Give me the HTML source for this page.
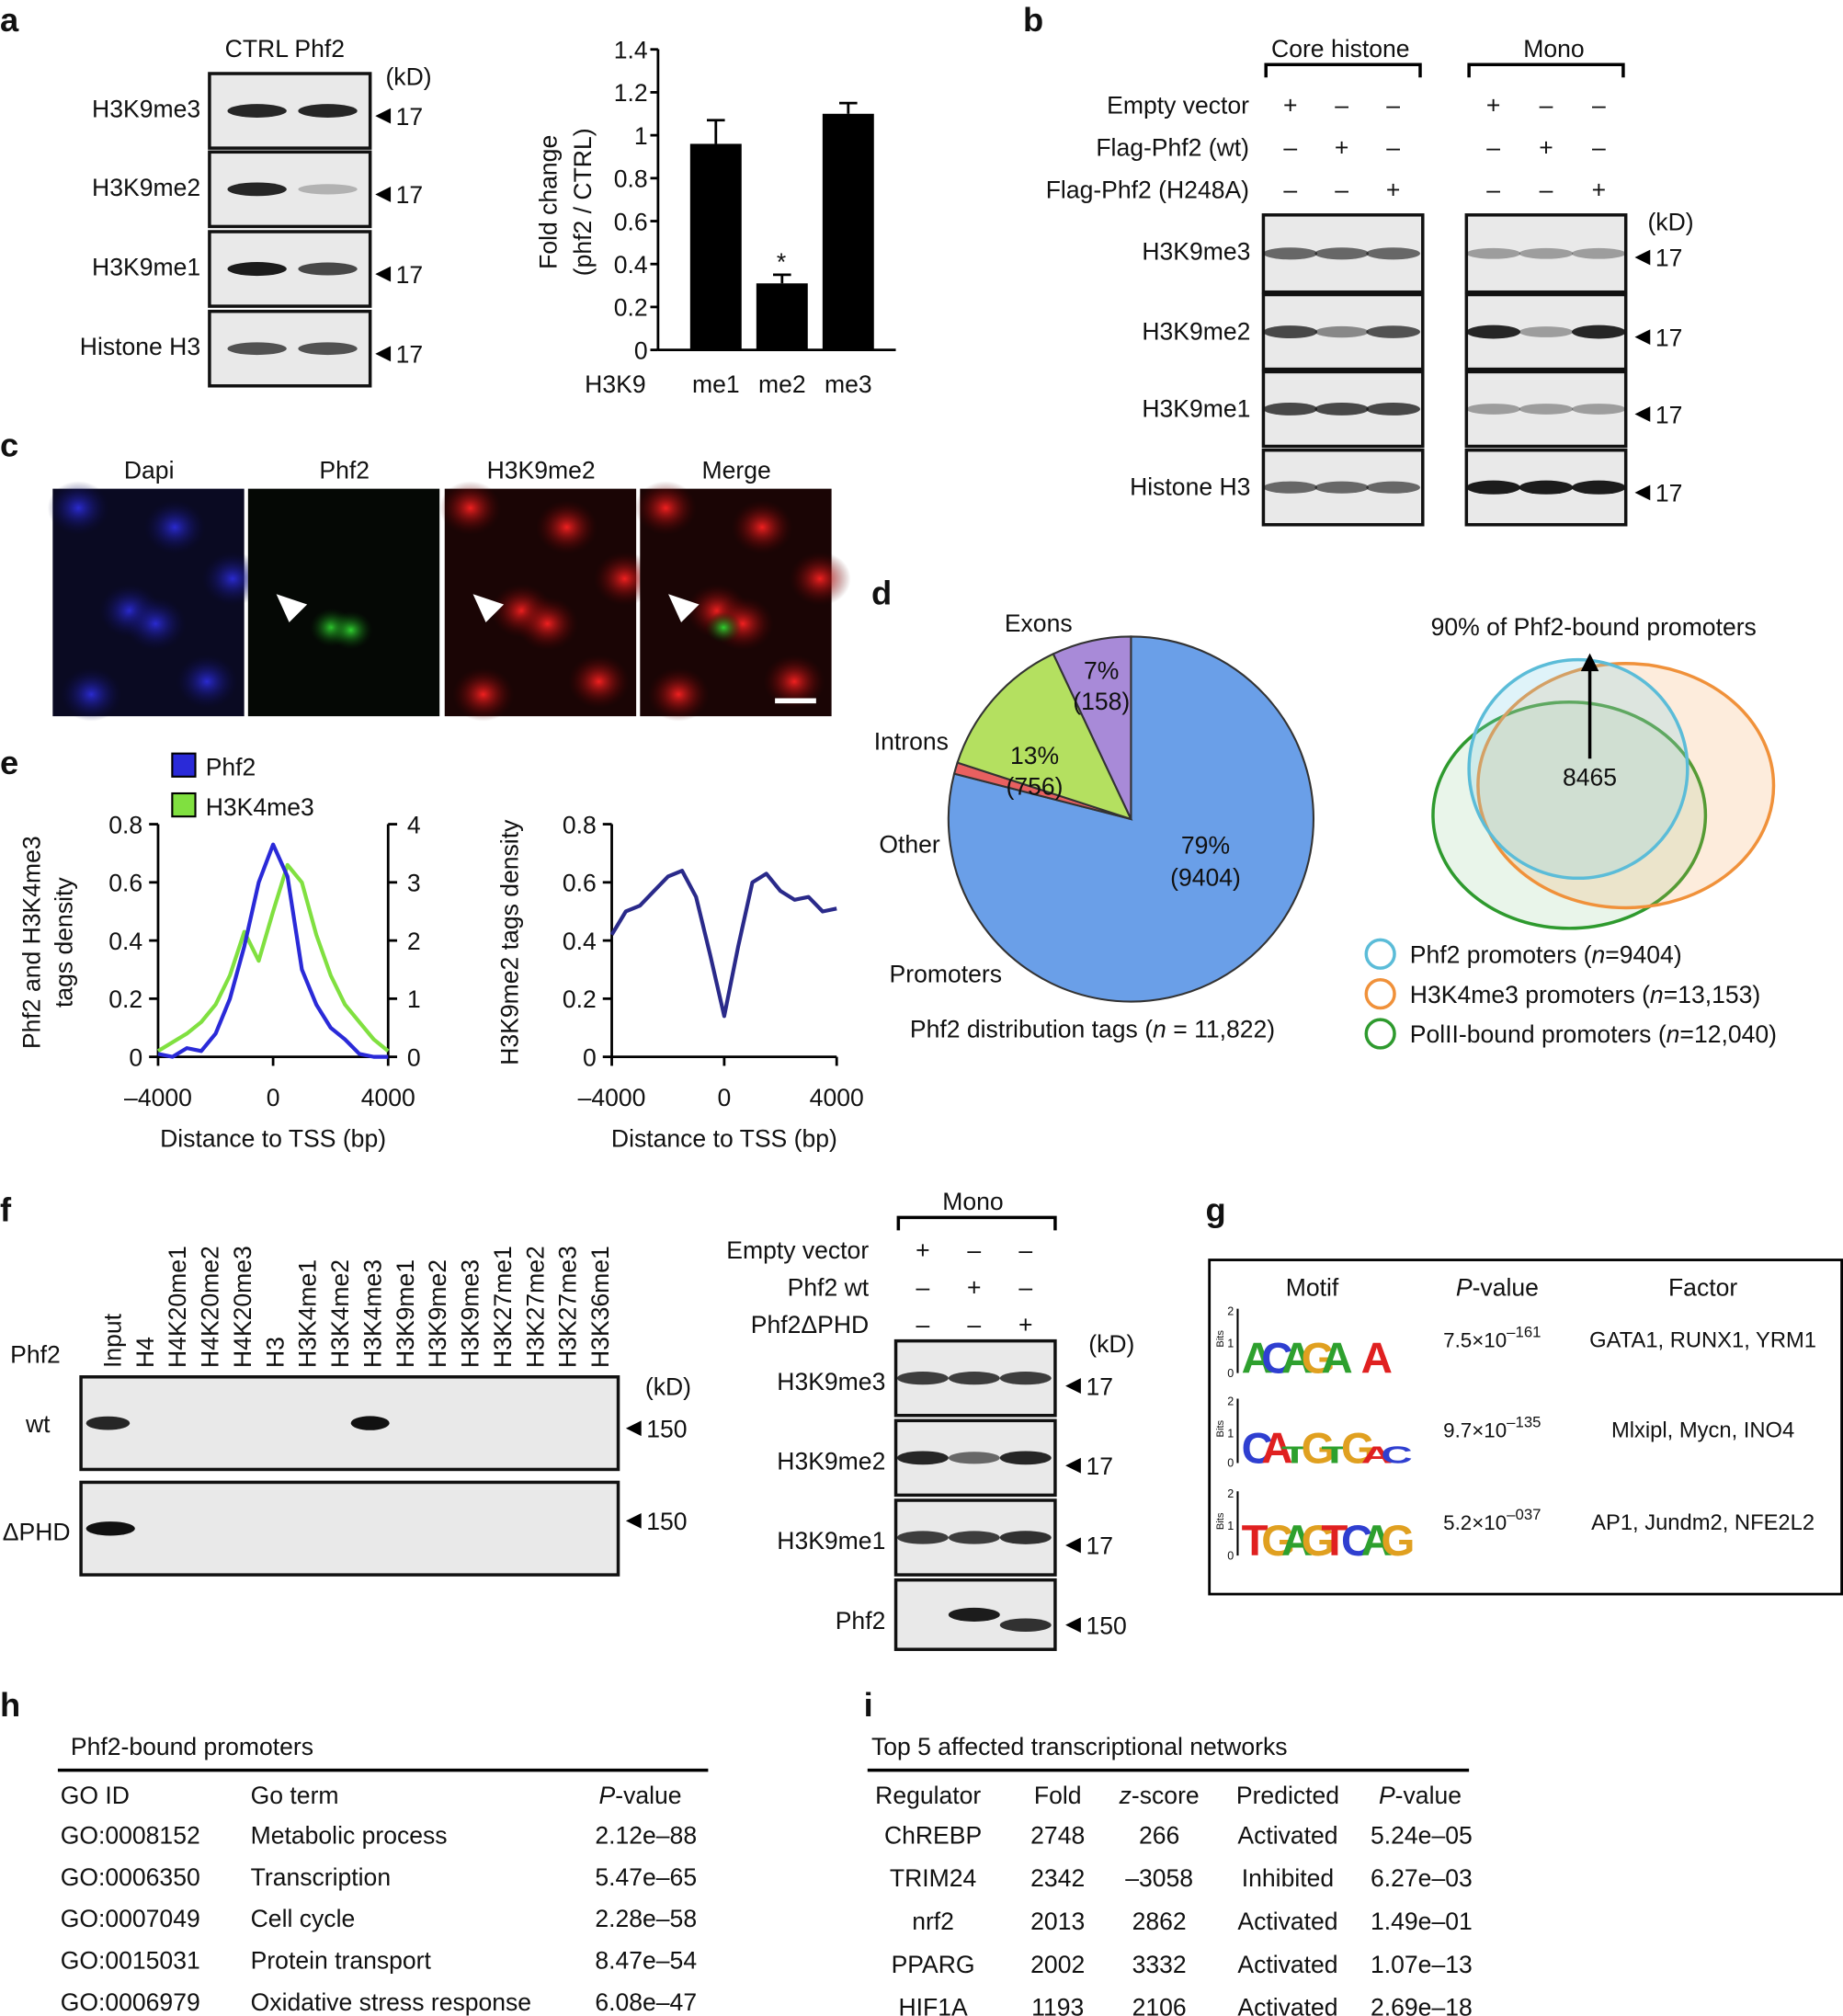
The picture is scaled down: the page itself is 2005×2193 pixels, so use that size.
<!DOCTYPE html>
<html><head><meta charset="utf-8">
<style>
html,body{margin:0;padding:0;background:#fff;}
svg{display:block;font-family:"Liberation Sans",Arial,sans-serif;}
</style></head>
<body>
<svg id="fig" width="2005" height="2193" viewBox="0 0 1434 1568" xmlns="http://www.w3.org/2000/svg">
<defs>
<radialGradient id="nucB" cx="50%" cy="50%" r="50%"><stop offset="0" stop-color="#2a2ad0"/><stop offset="1" stop-color="#0a0a40" stop-opacity="0"/></radialGradient>
<radialGradient id="nucG" cx="50%" cy="50%" r="50%"><stop offset="0" stop-color="#30d030"/><stop offset="1" stop-color="#053005" stop-opacity="0"/></radialGradient>
<radialGradient id="nucR" cx="50%" cy="50%" r="50%"><stop offset="0" stop-color="#f02020"/><stop offset="1" stop-color="#400" stop-opacity="0"/></radialGradient>
</defs>
<g id="root" font-size="19" fill="#111"></g>
</svg>
<script>
// ---- chart data ----
const barCategories = ['me1','me2','me3'];
const barValues = [0.96, 0.31, 1.1];
const barErrors = [0.11, 0.04, 0.05];
const barTicks = [0,0.2,0.4,0.6,0.8,1,1.2,1.4];
const tssPositions = [-4000,-3500,-3000,-2500,-2000,-1500,-1000,-500,0,500,1000,1500,2000,2500,3000,3500,4000];
const phf2Density = [0.01,0.0,0.03,0.02,0.08,0.2,0.38,0.6,0.73,0.62,0.3,0.18,0.1,0.06,0.01,0,0];
const h3k4me3Density = [0.1,0.25,0.4,0.6,0.9,1.4,2.15,1.65,2.5,3.3,3.0,2.1,1.4,0.9,0.6,0.3,0.1];
const h3k9me2Density = [0.42,0.5,0.52,0.57,0.62,0.64,0.55,0.35,0.14,0.38,0.6,0.63,0.57,0.54,0.55,0.5,0.51];
const leftTicks = [0,0.2,0.4,0.6,0.8];
const rightTicks = [0,1,2,3,4];
const xTicks = [-4000,0,4000];
const pieLabels = ['Promoters','Other','Introns','Exons'];
const pieValues = [79, 1, 13, 7];
const pieColors = ['#6a9fe8','#e86060','#b4e060','#a88ad8'];

const NS='http://www.w3.org/2000/svg';
const root=document.getElementById('root');
function el(tag,attrs,parent,text){const e=document.createElementNS(NS,tag);for(const k in attrs)e.setAttribute(k,attrs[k]);if(text!==undefined)e.textContent=text;(parent||root).appendChild(e);return e;}
function T(x,y,s,o){o=o||{};const a={x:x,y:y};if(o.a)a['text-anchor']=o.a;if(o.fs)a['font-size']=o.fs;if(o.w)a['font-weight']=o.w;if(o.st)a['font-style']=o.st;if(o.tr)a.transform=o.tr;if(o.fill)a.fill=o.fill;const t=el('text',a,o.p,s);return t;}
function L(x1,y1,x2,y2,w,c,p){const l=el('line',{x1:x1,y1:y1,x2:x2,y2:y2,stroke:c||'#000','stroke-width':w||2},p);return l;}
function blot(x,y,w,h,bands,name){const g=el('g',{});
 el('rect',{x:x,y:y,width:w,height:h,fill:'#e9e9e9',stroke:'#111','stroke-width':2.5},g);
 bands.forEach(b=>{if(b[2]<=0)return;el('ellipse',{cx:b[0],cy:y+h*(b[3]||0.5),rx:b[1]+3,ry:3.5+2*b[2],fill:'#111',opacity:b[2]},g);});return g;}
function arrow(x,y,label){el('path',{d:`M${x} ${y} l12 -6 v12 z`,fill:'#000'});T(x+16,y+7,label,{n:'kd-marker'});}

[['a',0,24],['b',796,24],['c',0,355],['d',678,470],['e',0,602],['f',0,950],['g',938,950],['h',0,1335],['i',672,1335]].forEach(p=>T(p[1],p[2],p[0],{fs:26,w:'bold',n:'panel-letter-'+p[0]}));

// ---- panel a blots ----
T(175,44,'CTRL Phf2',{n:'blot-a-header'});T(300,66,'(kD)');
const aRows=[['H3K9me3',57,[0.9,0.9]],['H3K9me2',118,[0.9,0.25]],['H3K9me1',180,[0.95,0.75]],['Histone H3',242,[0.7,0.7]]];
aRows.forEach((r,i)=>{blot(163,r[1],125,58,[[200,20,r[2][0]],[255,20,r[2][1]]],'blot-a-'+r[0]);T(156,r[1]+34,r[0],{a:'end',n:'row-label'});arrow(292,r[1]+33,'17');});

// ---- panel a bar chart ----
(function(){const x0=512,y0=272,k=167;const y=v=>y0-v*k;
 L(x0,38,x0,y0);L(x0,y0,697,y0);
 barTicks.forEach(t=>{L(x0-6,y(t),x0,y(t));T(x0-8,y(t)+7,String(t),{a:'end',n:'y-tick'});});
 T(0,0,'Fold change',{a:'middle',tr:'translate(433,157) rotate(-90)',n:'y-axis-title'});
 T(0,0,'(phf2 / CTRL)',{a:'middle',tr:'translate(460,157) rotate(-90)',n:'y-axis-title'});
 T(455,305,'H3K9',{n:'x-axis-title'});
 barCategories.forEach((c,i)=>{const cx=557+i*51.5,w=40,v=barValues[i],e=barErrors[i];
  const r=el('rect',{x:cx-w/2,y:y(v),width:w,height:y0-y(v),fill:'#000'});
  L(cx,y(v),cx,y(v+e));L(cx-7,y(v+e),cx+7,y(v+e));
  T(cx,305,c,{a:'middle',n:'x-tick'});});
 T(608,210,'*',{a:'middle',n:'significance-star'});
})();

// ---- panel b ----
T(1043,44,'Core histone',{a:'middle'});T(1209,44,'Mono',{a:'middle'});
el('path',{d:'M985 60 V50 H1105 V60 M1143 60 V50 H1263 V60',fill:'none',stroke:'#000','stroke-width':2.5});
const bCond=[['Empty vector',81,['+','–','–']],['Flag-Phf2 (wt)',114,['–','+','–']],['Flag-Phf2 (H248A)',147,['–','–','+']]];
bCond.forEach(r=>{T(972,r[1]+7,r[0],{a:'end',n:'condition-label'});r[2].forEach((s,j)=>{T(1004+j*40,r[1]+7,s,{a:'middle'});T(1162+j*41,r[1]+7,s,{a:'middle'});});});
T(1282,179,'(kD)');
const bRows=[['H3K9me3',167,[.6,.6,.6],[.35,.35,.35]],['H3K9me2',229,[.75,.45,.7],[.9,.35,.9]],['H3K9me1',289,[.75,.75,.75],[.35,.35,.35]],['Histone H3',350,[.6,.6,.6],[.95,.95,.95]]];
bRows.forEach(r=>{const h=r[0]=='H3K9me3'?60:58;
 blot(983,r[1],124,h,r[2].map((v,j)=>[1004+j*40,18,v]),'blot-b-core-'+r[0]);
 blot(1141,r[1],124,h,r[3].map((v,j)=>[1162+j*41,18,v]),'blot-b-mono-'+r[0]);
 T(973,r[1]+35,r[0],{a:'end',n:'row-label'});arrow(1272,r[1]+33,'17');});

// ---- panel c ----
const cPan=[['Dapi',41,'nucB'],['Phf2',193,'nucG'],['H3K9me2',346,'nucR'],['Merge',498,'nucR']];
const nuclei=[[20,15],[95,30],[60,95],[80,105],[120,150],[30,160],[140,70]];
cPan.forEach((p,i)=>{const g=el('g',{});
 el('rect',{x:p[1],y:380,width:149,height:177,fill:i==0?'#0a0a22':(i==1?'#050805':'#1a0505')},g);
 if(i==1){el('ellipse',{cx:p[1]+65,cy:488,rx:17,ry:15,fill:'url(#nucG)'},g);el('ellipse',{cx:p[1]+80,cy:490,rx:17,ry:15,fill:'url(#nucG)'},g);}
 else{nuclei.forEach(n=>el('ellipse',{cx:p[1]+n[0],cy:380+n[1],rx:24,ry:21,fill:'url(#'+p[2]+')'},g));}
 if(i==3){el('ellipse',{cx:p[1]+65,cy:488,rx:14,ry:12,fill:'url(#nucG)'},g);el('rect',{x:p[1]+105,y:543,width:32,height:4,fill:'#fff'},g);}
 if(i>0)el('path',{d:`M${p[1]+22} 462 l24 8 l-14 14 z`,fill:'#fff'},g);
 T(p[1]+75,372,p[0],{a:'middle',n:'micrograph-title'});});

// ---- panel d pie ----
(function(){const cx=880,cy=637,r=142;const tot=pieValues.reduce((a,b)=>a+b,0);let a=-Math.PI/2;
 pieValues.forEach((v,i)=>{const da=v/tot*2*Math.PI,a2=a+da;const big=da>Math.PI?1:0;
  const p=el('path',{d:`M${cx} ${cy} L${cx+r*Math.cos(a)} ${cy+r*Math.sin(a)} A${r} ${r} 0 ${big} 1 ${cx+r*Math.cos(a2)} ${cy+r*Math.sin(a2)} Z`,fill:pieColors[i],stroke:'#333','stroke-width':1.5});
  a=a2;});
 T(938,664,'79%',{a:'middle'});T(938,689,'(9404)',{a:'middle'});
 T(805,594,'13%',{a:'middle'});T(805,618,'(756)',{a:'middle'});
 T(857,528,'7%',{a:'middle'});T(857,552,'(158)',{a:'middle'});
 T(808,491,'Exons',{a:'middle'});T(680,583,'Introns');T(684,663,'Other');T(692,764,'Promoters');
 const t=T(708,807,'Phf2 distribution tags (',{n:'pie-caption'});
 el('tspan',{'font-style':'italic'},t,'n');el('tspan',{},t,' = 11,822)');
})();
// venn
(function(){const g=el('g',{});
 el('ellipse',{cx:1221,cy:634,rx:106,ry:88,fill:'#4caf50','fill-opacity':0.12,stroke:'#2e9a2e','stroke-width':2.5},g);
 el('ellipse',{cx:1265,cy:611,rx:115,ry:95,fill:'#f5a050','fill-opacity':0.2,stroke:'#f0913a','stroke-width':2.5},g);
 el('ellipse',{cx:1228,cy:598,rx:85,ry:85,fill:'#7fd0e8','fill-opacity':0.25,stroke:'#5bbcd8','stroke-width':2.5},g);
 L(1237,590,1237,520,2.5,'#000',g);el('path',{d:'M1230 522 l7 -14 l7 14 z',fill:'#000'},g);
 T(1237,611,'8465',{a:'middle',n:'venn-overlap-count'});
 T(1240,494,'90% of Phf2-bound promoters',{a:'middle',n:'venn-title'});
 [['#5bbcd8','Phf2 promoters (','n','=9404)',749],['#f0913a','H3K4me3 promoters (','n','=13,153)',780],['#2e9a2e','PolII-bound promoters (','n','=12,040)',811]].forEach(l=>{
  const c=el('circle',{cx:1074,cy:l[4]-7,r:11,fill:'none',stroke:l[0],'stroke-width':2.5});
  const t=T(1097,l[4],l[1],{n:'legend-entry'});el('tspan',{'font-style':'italic'},t,l[2]);el('tspan',{},t,l[3]);});
})();

// ---- panel e charts ----
function lineChart(x0,x1,y0,y1,left,right,series,name){
 const xs=v=>x0+(v+4000)/8000*(x1-x0);const ys=(v,m)=>y0-v/m*(y0-y1);
 L(x0,y1,x0,y0);L(x0,y0,x1,y0);
 leftTicks.forEach(t=>{L(x0-7,ys(t,0.8),x0,ys(t,0.8));T(x0-12,ys(t,0.8)+7,String(t),{a:'end',n:'y-tick'});});
 if(right){L(x1,y1,x1,y0);rightTicks.forEach(t=>{L(x1,ys(t,4),x1+7,ys(t,4));T(x1+20,ys(t,4)+7,String(t),{a:'middle',n:'y-tick-right'});});}
 xTicks.forEach(t=>{L(xs(t),y0,xs(t),y0+7);T(xs(t),y0+38,t<0?'–4000':String(t),{a:'middle',n:'x-tick'});});
 T((x0+x1)/2,y0+70,'Distance to TSS (bp)',{a:'middle',n:'x-axis-title'});
 series.forEach(s=>{const pts=tssPositions.map((p,i)=>xs(p).toFixed(1)+','+ys(s.d[i],s.m).toFixed(1)).join(' ');
  const pl=el('polyline',{points:pts,fill:'none',stroke:s.c,'stroke-width':3,'stroke-linejoin':'round'});});
}
lineChart(123,302,822,641,true,true,[{d:h3k4me3Density,m:4,c:'#80e040',n:'line-h3k4me3'},{d:phf2Density,m:0.8,c:'#2a2ad8',n:'line-phf2'}],'e1');
lineChart(476,651,822,641,true,false,[{d:h3k9me2Density,m:0.8,c:'#2a2a8a',n:'line-h3k9me2'}],'e2');
T(0,0,'Phf2 and H3K4me3',{a:'middle',tr:'translate(31,733) rotate(-90)',n:'y-axis-title'});
T(0,0,'tags density',{a:'middle',tr:'translate(56,733) rotate(-90)',n:'y-axis-title'});
T(0,0,'H3K9me2 tags density',{a:'middle',tr:'translate(403,733) rotate(-90)',n:'y-axis-title'});
[['#2a2ad8','Phf2',604],['#80e040','H3K4me3',635]].forEach(l=>{const r=el('rect',{x:134,y:l[2]-18,width:18,height:18,fill:l[0],stroke:'#000','stroke-width':1.5});T(160,l[2]-1,l[1],{n:'legend-entry'});});

// ---- panel f ----
const fCols=['Input','H4','H4K20me1','H4K20me2','H4K20me3','H3','H3K4me1','H3K4me2','H3K4me3','H3K9me1','H3K9me2','H3K9me3','H3K27me1','H3K27me2','H3K27me3','H3K36me1'];
fCols.forEach((c,i)=>T(0,0,c,{tr:`translate(${94+i*25.3},1064) rotate(-90)`,n:'column-label'}));
T(8,1060,'Phf2');
blot(63,1071,418,72,[[84,14,0.9],[288,12,1.0]],'blot-f-wt');
blot(63,1153,418,72,[[86,16,1.0]],'blot-f-dphd');
T(20,1114,'wt');T(2,1198,'ΔPHD');T(502,1085,'(kD)');arrow(487,1111,'150');arrow(487,1183,'150');
T(757,941,'Mono',{a:'middle'});el('path',{d:'M699 957 V947 H821 V957',fill:'none',stroke:'#000','stroke-width':2.5});
[['Empty vector',972,['+','–','–']],['Phf2 wt',1001,['–','+','–']],['Phf2ΔPHD',1030,['–','–','+']]].forEach(r=>{T(676,r[1]+7,r[0],{a:'end',n:'condition-label'});r[2].forEach((s,j)=>T(718+j*40,r[1]+7,s,{a:'middle'}));});
T(847,1052,'(kD)');
[['H3K9me3',1043,[.8,.8,.8],'17'],['H3K9me2',1105,[.9,.6,.9],'17'],['H3K9me1',1167,[.8,.8,.85],'17'],['Phf2',1229,[0,.95,.85],'150']].forEach((r,i)=>{
 blot(697,r[1],124,r[0]=='Phf2'?54:58,r[2].map((v,j)=>[718+j*40,17,v,(i==3&&j==2)?0.65:0.5]),'blot-f-mono-'+r[0]);
 T(689,r[1]+38,r[0],{a:'end',n:'row-label'});arrow(829,r[1]+35,r[3]);});

// ---- panel g ----
el('rect',{x:941,y:980,width:492,height:260,fill:'none',stroke:'#000','stroke-width':2});
T(1021,1008,'Motif',{a:'middle'});
{const t=T(1165,1008,'',{a:'middle'});el('tspan',{'font-style':'italic'},t,'P');el('tspan',{},t,'-value');}
T(1325,1008,'Factor',{a:'middle'});
const motifs=[[['A','C','A','G','A','_','A'],['#2ea02e','#2f3fd0','#2ea02e','#e0a020','#2ea02e','#e0a020','#e02020'],'7.5×10','–161','GATA1, RUNX1, YRM1',1068],
 [['C','A','T','G','T','G','A','C'],['#2f3fd0','#e02020','#2ea02e','#e0a020','#2ea02e','#e0a020','#e02020','#2f3fd0'],'9.7×10','–135','Mlxipl, Mycn, INO4',1138],
 [['T','G','A','G','T','C','A','G'],['#e02020','#e0a020','#2ea02e','#e0a020','#e02020','#2f3fd0','#2ea02e','#e0a020'],'5.2×10','–037','AP1, Jundm2, NFE2L2',1210]];
motifs.forEach((m,k)=>{const g=el('g',{});
 L(963,m[5]-50,963,m[5],1.5,'#000',g);T(0,0,'Bits',{fs:8,tr:`translate(952,${m[5]-20}) rotate(-90)`,p:g});
 T(955,m[5]-45,'2',{fs:9,p:g});T(955,m[5]-20,'1',{fs:9,p:g});T(955,m[5]+3,'0',{fs:9,p:g});
 m[0].forEach((c,i)=>{const big=k==1&&(i==2||i==4||i==6||i==7)?0.55:1;
  if(c!='_')T(966+i*15.5,m[5],c,{fs:34,w:'bold',fill:m[1][i],tr:`translate(0,${m[5]*(1-big)}) scale(1,${big})`,p:g});});
 const t=T(1123,m[5]-20,m[2],{fs:16});el('tspan',{dy:-8,'font-size':12},t,m[3]);
 T(1325,m[5]-20,m[4],{a:'middle',fs:17,n:'factor-list'});});

// ---- panel h ----
T(55,1365,'Phf2-bound promoters',{n:'table-title'});L(45,1377,551,1377,2.5);
T(47,1403,'GO ID');T(195,1403,'Go term');{const t=T(466,1403,'');el('tspan',{'font-style':'italic'},t,'P');el('tspan',{},t,'-value');}
[['GO:0008152','Metabolic process','2.12e–88'],['GO:0006350','Transcription','5.47e–65'],['GO:0007049','Cell cycle','2.28e–58'],['GO:0015031','Protein transport','8.47e–54'],['GO:0006979','Oxidative stress response','6.08e–47']].forEach((r,i)=>{
 const y=1434+i*32.5;T(47,y,r[0],{n:'go-id'});T(195,y,r[1],{n:'go-term'});T(463,y,r[2],{n:'p-value'});});

// ---- panel i ----
T(678,1365,'Top 5 affected transcriptional networks',{n:'table-title'});L(675,1377,1143,1377,2.5);
T(681,1403,'Regulator');T(823,1403,'Fold',{a:'middle'});{const t=T(902,1403,'',{a:'middle'});el('tspan',{'font-style':'italic'},t,'z');el('tspan',{},t,'-score');}
T(1002,1403,'Predicted',{a:'middle'});{const t=T(1105,1403,'',{a:'middle'});el('tspan',{'font-style':'italic'},t,'P');el('tspan',{},t,'-value');}
[['ChREBP','2748','266','Activated','5.24e–05'],['TRIM24','2342','–3058','Inhibited','6.27e–03'],['nrf2','2013','2862','Activated','1.49e–01'],['PPARG','2002','3332','Activated','1.07e–13'],['HIF1A','1193','2106','Activated','2.69e–18']].forEach((r,i)=>{
 const y=1434+i*33.5;T(726,y,r[0],{a:'middle'});T(823,y,r[1],{a:'middle'});T(902,y,r[2],{a:'middle'});T(1002,y,r[3],{a:'middle'});T(1106,y,r[4],{a:'middle'});});
</script>
</body></html>
